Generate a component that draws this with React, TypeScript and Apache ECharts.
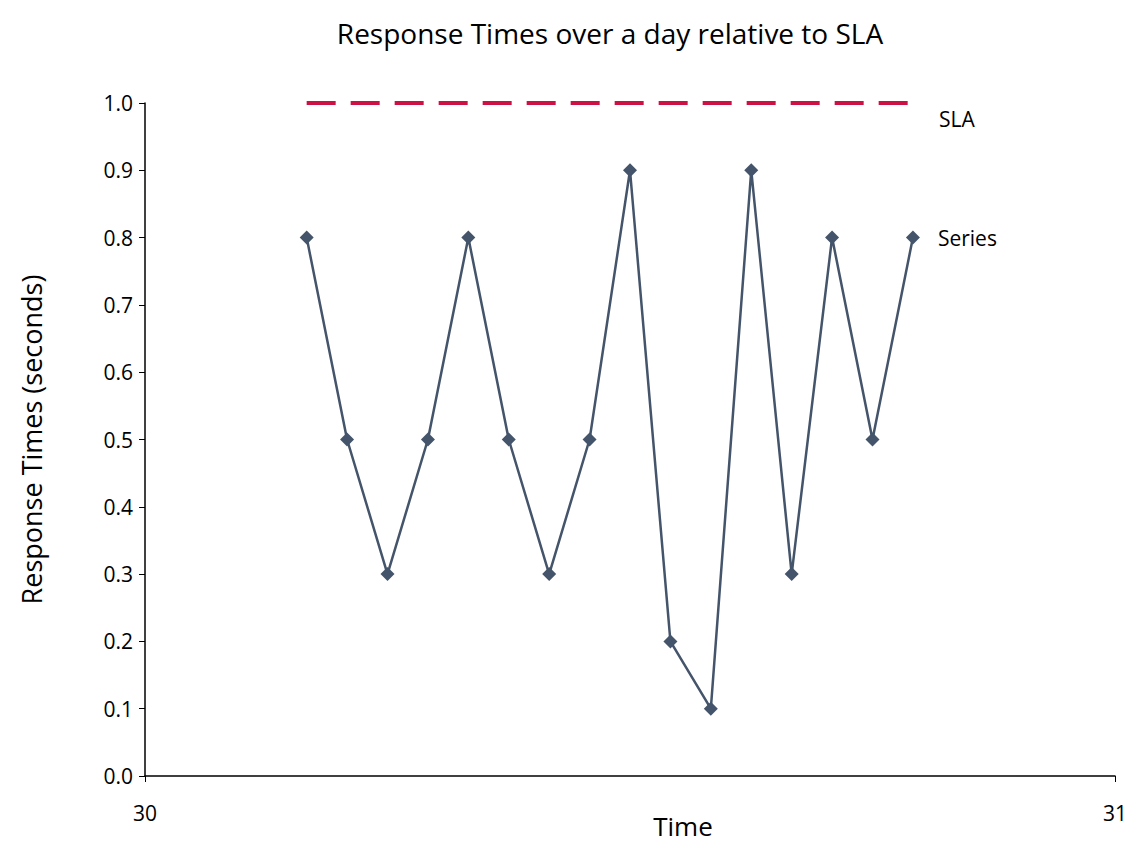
import { useEffect, useRef } from 'react';
import * as echarts from 'echarts';

// hour of day for each reading (day 30 -> 31)
const HOURS = [4, 5, 6, 7, 8, 9, 10, 11, 12, 13, 14, 15, 16, 17, 18, 19];
const RESPONSE_TIMES = [0.8, 0.5, 0.3, 0.5, 0.8, 0.5, 0.3, 0.5, 0.9, 0.2, 0.1, 0.9, 0.3, 0.8, 0.5, 0.8];
const SLA_HOURS = [4, 19];
const SLA_VALUE = 1.0;
const DAY_START = 30;
const DAY_END = 31;

const FONT = "'Open Sans', sans-serif";
const SERIES_COLOR = '#44546a';
const SLA_COLOR = '#cc1145';

const toDay = (h: number) => DAY_START + h / 24;

export default function App() {
  const chartRef = useRef<HTMLDivElement>(null);

  useEffect(() => {
    if (!chartRef.current) return;
    const chart = echarts.init(chartRef.current, null, { renderer: 'svg' });

    const seriesData = HOURS.map((h, i) => {
      const item: any = { value: [toDay(h), RESPONSE_TIMES[i]] };
      if (i === HOURS.length - 1) {
        item.label = {
          show: true,
          formatter: 'Series',
          position: 'right',
          distance: 18,
          color: '#000',
          fontSize: 21,
          fontFamily: FONT,
        };
      }
      return item;
    });

    const slaData = SLA_HOURS.map((h) => [toDay(h), SLA_VALUE]);

    const option: echarts.EChartsOption = {
      animation: false,
      textStyle: { fontFamily: FONT },
      grid: { left: 145, right: 30, top: 103, bottom: 90 },
      graphic: [
        {
          type: 'text',
          x: 610,
          y: 33,
          style: {
            text: 'Response Times over a day relative to SLA',
            fill: '#000',
            font: `28px ${FONT}`,
            textAlign: 'center',
            textVerticalAlign: 'middle',
          },
        },
        {
          type: 'text',
          x: 683,
          y: 826,
          style: {
            text: 'Time',
            fill: '#000',
            font: `26px ${FONT}`,
            textAlign: 'center',
            textVerticalAlign: 'middle',
          },
        },
      ],
      xAxis: {
        type: 'value',
        min: DAY_START,
        max: DAY_END,
        interval: 1,
        axisLine: { show: true, lineStyle: { color: '#000', width: 1.5 } },
        axisTick: { show: true, length: 6, lineStyle: { color: '#000' } },
        axisLabel: { color: '#000', fontSize: 21, margin: 26, fontFamily: FONT },
        splitLine: { show: false },
      },
      yAxis: {
        type: 'value',
        min: 0,
        max: 1,
        interval: 0.1,
        name: 'Response Times (seconds)',
        nameLocation: 'middle',
        nameGap: 100,
        nameTextStyle: { color: '#000', fontSize: 27, fontFamily: FONT },
        axisLine: { show: true, lineStyle: { color: '#000', width: 1.5 } },
        axisTick: { show: true, length: 6, lineStyle: { color: '#000' } },
        axisLabel: {
          color: '#000',
          fontSize: 21,
          margin: 12,
          fontFamily: FONT,
          formatter: (v: number) => v.toFixed(1),
        },
        splitLine: { show: false },
      },
      series: [
        {
          name: 'SLA',
          type: 'line',
          data: slaData,
          symbol: 'none',
          lineStyle: { color: SLA_COLOR, width: 4, type: [29, 15] },
          itemStyle: { color: SLA_COLOR },
          endLabel: {
            show: true,
            formatter: 'SLA',
            distance: 26,
            offset: [0, 16],
            color: '#000',
            fontSize: 21,
            fontFamily: FONT,
          },
        },
        {
          name: 'Series',
          type: 'line',
          data: seriesData,
          symbol: 'diamond',
          symbolSize: 14,
          lineStyle: { color: SERIES_COLOR, width: 2.5 },
          itemStyle: { color: SERIES_COLOR },
        },
      ],
    };

    chart.setOption(option);
    return () => chart.dispose();
  }, []);

  return (
    <div
      ref={chartRef}
      style={{ position: 'absolute', left: 0, top: 0, width: 1145, height: 866, background: '#fff' }}
    />
  );
}
